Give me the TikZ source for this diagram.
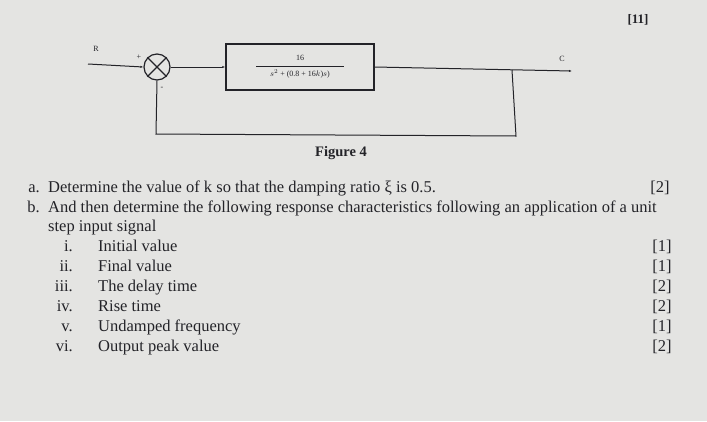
\documentclass[tikz,border=0pt]{standalone}
\usepackage{fontspec}
\setmainfont{Liberation Serif}
\usetikzlibrary{arrows.meta}
\definecolor{paper}{RGB}{228,228,226}
\definecolor{ink}{RGB}{35,35,40}
\begin{document}
\begin{tikzpicture}[x=1pt,y=-1pt,
  txt/.style={anchor=base west,inner sep=0pt,text=ink,font=\fontsize{16.5}{18}\selectfont},
  num/.style={anchor=base east,inner sep=0pt,text=ink,font=\fontsize{16.5}{18}\selectfont},
  mk/.style={anchor=base,inner sep=0pt,text=ink,font=\fontsize{16.5}{18}\selectfont},
  small/.style={inner sep=0pt,text=ink,font=\fontsize{8}{9}\selectfont},
  wire/.style={draw=ink,line width=1pt}]
\fill[paper] (0,0) rectangle (707,421);
\useasboundingbox (0,0) rectangle (707,421);
% block diagram
\node[draw=ink,line width=1.2pt,circle,minimum size=26pt,inner sep=0pt] (sum) at (157,67) {};
\draw[ink,line width=1.2pt] (sum.north west)--(sum.south east) (sum.north east)--(sum.south west);
\node[draw=ink,line width=1.5pt,minimum width=148pt,minimum height=46pt,inner sep=0pt] (blk) at (300,67) {};
\node[small] (num) at (300,58) {16};
\draw[ink,line width=0.5pt] (256,66)--(344,66);
\node[small] (den) at (300,74) {$s^2$ + (0.8 + 16$k$)$s$)};
\coordinate (rin) at (88,64);
\coordinate (cout) at (572,71);
\coordinate (tap) at (512,70);
\coordinate (br) at (516,136);
\coordinate (bl) at (156,134);
\draw[wire,-{Latex[length=3pt]}] (rin) -- (sum.west);
\draw[wire,-{Latex[length=3pt]}] (sum.east) -- (blk.west);
\draw[wire,-{Latex[length=3pt]}] (blk.east) -- (cout);
\draw[wire] (tap) -- (br) -- (bl) -- (sum.south);
\node[small] (rl) at (96,49) {R};
\node[small] (cl) at (562,59) {C};
\node[small] (pl) at (139,57) {+};
\node[small] (ml) at (162,88) {-};
\node[anchor=base,inner sep=0pt,text=ink,font=\fontsize{13}{15}\selectfont\bfseries] (tot) at (638,23) {[11]};
\node[anchor=base,inner sep=0pt,text=ink,font=\fontsize{14.5}{16}\selectfont\bfseries] (fig) at (341,156) {Figure 4};
% questions
\node[num] (la) at (40,192) {a.};
\node[txt] (ta) at (48,192) {Determine the value of k so that the damping ratio ξ is 0.5.};
\node[mk] (ma) at (660,192) {[2]};
\node[num] (lb) at (40,212) {b.};
\node[txt] (tb) at (48,212) {And then determine the following response characteristics following an application of a unit};
\node[txt] (tb2) at (48,231) {step input signal};
\foreach \r/\t/\m [count=\i] in {i./Initial value/[1], ii./Final value/[1], iii./The delay time/[2], iv./Rise time/[2], v./Undamped frequency/[1], vi./Output peak value/[2]}{
  \node[num] (r\i) at (73,{231+20*\i}) {\r};
  \node[txt] (t\i) at (98,{231+20*\i}) {\t};
  \node[mk] (m\i) at (662,{231+20*\i}) {\m};
}
\end{tikzpicture}
\end{document}
